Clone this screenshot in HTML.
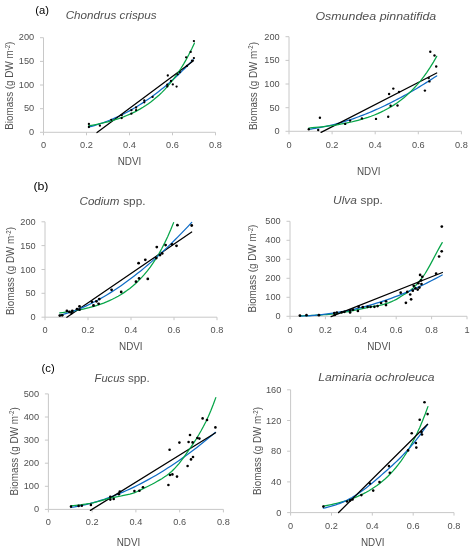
<!DOCTYPE html>
<html lang="en"><head><meta charset="utf-8"><title>Biomass vs NDVI</title>
<style>html,body{margin:0;padding:0;background:#fff}svg{display:block}text{font-family:"Liberation Sans",Arial,sans-serif}.t{fill:#505050;font-size:9.2px}.l{fill:#505050;font-size:10.4px}.h{fill:#505050;font-size:11.5px}.i{font-style:italic}.g{fill:#000;font-size:11.5px}.ax{stroke:#c8c8c8;stroke-width:1;fill:none}.k{stroke:#000;stroke-width:1.25;fill:none;stroke-linecap:round}.b{stroke:#0f6cc6;stroke-width:1.25;fill:none;stroke-linecap:round}.gr{stroke:#06a548;stroke-width:1.25;fill:none;stroke-linecap:round}.p{fill:#000}</style></head><body>
<svg width="474" height="550" viewBox="0 0 474 550">
<rect width="474" height="550" fill="#fff"/>
<g>
<path class="ax" d="M43.5,37.7V132.3H215.5M43.5,132.3v3M86.5,132.3v3M129.5,132.3v3M172.5,132.3v3M215.5,132.3v3M43.5,132.3h-3.5M43.5,108.7h-3.5M43.5,85.0h-3.5M43.5,61.4h-3.5M43.5,37.7h-3.5"/>
<text class="t" x="43.5" y="148.2" text-anchor="middle">0</text>
<text class="t" x="86.5" y="148.2" text-anchor="middle">0.2</text>
<text class="t" x="129.5" y="148.2" text-anchor="middle">0.4</text>
<text class="t" x="172.5" y="148.2" text-anchor="middle">0.6</text>
<text class="t" x="215.5" y="148.2" text-anchor="middle">0.8</text>
<text class="t" x="34.2" y="134.9" text-anchor="end">0</text>
<text class="t" x="34.2" y="111.2" text-anchor="end">50</text>
<text class="t" x="34.2" y="87.6" text-anchor="end">100</text>
<text class="t" x="34.2" y="64.0" text-anchor="end">150</text>
<text class="t" x="34.2" y="40.3" text-anchor="end">200</text>
<text class="l" x="129.5" y="165.2" text-anchor="middle" textLength="23.6" lengthAdjust="spacingAndGlyphs">NDVI</text>
<text class="l" transform="translate(12.7,129.7) rotate(-90)" textLength="88.1" lengthAdjust="spacingAndGlyphs">Biomass (g DW m<tspan font-size="6.5px" dy="-3.2">-2</tspan><tspan dy="3.2">)</tspan></text>
<text class="h i" x="65.7" y="19.4" textLength="90.9" lengthAdjust="spacingAndGlyphs">Chondrus crispus</text>
<text class="g" x="35.2" y="13.8" textLength="13.7" lengthAdjust="spacingAndGlyphs">(a)</text>
<path class="b" d="M88.90,127.02 L91.57,126.31 L94.25,125.55 L96.92,124.75 L99.60,123.89 L102.27,122.99 L104.95,122.03 L107.62,121.03 L110.29,119.97 L112.97,118.86 L115.64,117.69 L118.32,116.48 L120.99,115.21 L123.67,113.89 L126.34,112.51 L129.02,111.08 L131.69,109.60 L134.36,108.06 L137.04,106.46 L139.71,104.82 L142.39,103.11 L145.06,101.35 L147.74,99.53 L150.41,97.65 L153.08,95.72 L155.76,93.73 L158.43,91.69 L161.11,89.58 L163.78,87.42 L166.46,85.20 L169.13,82.92 L171.81,80.58 L174.48,78.19 L177.15,75.73 L179.83,73.22 L182.50,70.64 L185.18,68.00 L187.85,65.31 L190.53,62.55 L193.20,59.74"/>
<path class="k" d="M97.0,132.6L193.5,60.7"/>
<path class="gr" d="M88.90,125.73 L91.61,125.27 L94.31,124.79 L97.02,124.27 L99.72,123.71 L102.43,123.12 L105.13,122.48 L107.84,121.80 L110.54,121.08 L113.25,120.30 L115.95,119.47 L118.66,118.59 L121.36,117.64 L124.07,116.63 L126.77,115.54 L129.48,114.38 L132.18,113.14 L134.89,111.82 L137.59,110.40 L140.30,108.89 L143.00,107.27 L145.71,105.54 L148.41,103.69 L151.12,101.71 L153.82,99.60 L156.53,97.34 L159.23,94.92 L161.94,92.34 L164.64,89.57 L167.35,86.62 L170.05,83.46 L172.76,80.08 L175.46,76.47 L178.17,72.61 L180.87,68.49 L183.58,64.07 L186.28,59.36 L188.99,54.31 L191.69,48.92 L194.40,43.16"/>
<g class="p"><circle cx="88.9" cy="124.0" r="1.15"/><circle cx="88.9" cy="127.0" r="1.15"/><circle cx="99.9" cy="125.7" r="1.15"/><circle cx="111.3" cy="119.8" r="1.15"/><circle cx="121.7" cy="115.2" r="1.15"/><circle cx="121.7" cy="118.1" r="1.15"/><circle cx="131.4" cy="110.2" r="1.15"/><circle cx="131.4" cy="113.7" r="1.15"/><circle cx="136.1" cy="107.5" r="1.15"/><circle cx="136.1" cy="110.2" r="1.15"/><circle cx="144.3" cy="100.4" r="1.15"/><circle cx="144.3" cy="102.3" r="1.15"/><circle cx="193.9" cy="41.1" r="1.15"/><circle cx="193.9" cy="58.1" r="1.15"/><circle cx="192.0" cy="60.7" r="1.15"/><circle cx="190.7" cy="51.9" r="1.15"/><circle cx="186.1" cy="57.3" r="1.15"/><circle cx="187.0" cy="65.9" r="1.15"/><circle cx="179.9" cy="72.1" r="1.15"/><circle cx="177.7" cy="74.3" r="1.15"/><circle cx="167.8" cy="75.5" r="1.15"/><circle cx="171.0" cy="81.0" r="1.15"/><circle cx="172.8" cy="84.4" r="1.15"/><circle cx="176.6" cy="86.6" r="1.15"/><circle cx="167.3" cy="84.7" r="1.15"/><circle cx="167.3" cy="86.4" r="1.15"/><circle cx="152.6" cy="96.9" r="1.15"/></g>
</g>
<g>
<path class="ax" d="M289.0,36.7V131.3H461.4M289.0,131.3v3M332.1,131.3v3M375.2,131.3v3M418.3,131.3v3M461.4,131.3v3M289.0,131.3h-3.5M289.0,107.7h-3.5M289.0,84.0h-3.5M289.0,60.4h-3.5M289.0,36.7h-3.5"/>
<text class="t" x="289.0" y="148.0" text-anchor="middle">0</text>
<text class="t" x="332.1" y="148.0" text-anchor="middle">0.2</text>
<text class="t" x="375.2" y="148.0" text-anchor="middle">0.4</text>
<text class="t" x="418.3" y="148.0" text-anchor="middle">0.6</text>
<text class="t" x="461.4" y="148.0" text-anchor="middle">0.8</text>
<text class="t" x="279.7" y="134.3" text-anchor="end">0</text>
<text class="t" x="279.7" y="110.7" text-anchor="end">50</text>
<text class="t" x="279.7" y="87.0" text-anchor="end">100</text>
<text class="t" x="279.7" y="63.4" text-anchor="end">150</text>
<text class="t" x="279.7" y="39.7" text-anchor="end">200</text>
<text class="l" x="368.7" y="175.4" text-anchor="middle" textLength="23.6" lengthAdjust="spacingAndGlyphs">NDVI</text>
<text class="l" transform="translate(256.6,130.0) rotate(-90)" textLength="88.0" lengthAdjust="spacingAndGlyphs">Biomass (g DW m<tspan font-size="6.5px" dy="-3.2">-2</tspan><tspan dy="3.2">)</tspan></text>
<text class="h i" x="315.4" y="19.5" textLength="120.9" lengthAdjust="spacingAndGlyphs">Osmundea pinnatifida</text>
<path class="b" d="M308.80,129.30 L310.97,129.01 L313.14,128.69 L315.30,128.35 L317.47,127.99 L319.64,127.60 L321.81,127.19 L323.97,126.76 L326.14,126.30 L328.31,125.82 L330.48,125.31 L332.65,124.79 L334.81,124.24 L336.98,123.66 L339.15,123.07 L341.32,122.45 L343.48,121.81 L345.65,121.15 L347.82,120.47 L349.99,119.76 L352.16,119.04 L354.32,118.29 L356.49,117.52 L358.66,116.73 L360.83,115.92 L362.99,115.09 L365.16,114.24 L367.33,113.37 L369.50,112.48 L371.67,111.57 L373.83,110.64 L376.00,109.69 L378.17,108.72 L380.34,107.73 L382.51,106.73 L384.67,105.70 L386.84,104.66 L389.01,103.59 L391.18,102.51 L393.34,101.41 L395.51,100.30 L397.68,99.16 L399.85,98.01 L402.02,96.84 L404.18,95.66 L406.35,94.45 L408.52,93.23 L410.69,92.00 L412.85,90.74 L415.02,89.47 L417.19,88.19 L419.36,86.89 L421.53,85.57 L423.69,84.23 L425.86,82.89 L428.03,81.52 L430.20,80.14 L432.36,78.75 L434.53,77.34 L436.70,75.92"/>
<path class="k" d="M321.1,132.4L436.7,73.0"/>
<path class="gr" d="M308.80,128.02 L312.08,127.74 L315.36,127.45 L318.64,127.12 L321.92,126.77 L325.20,126.40 L328.48,125.99 L331.76,125.54 L335.04,125.06 L338.32,124.54 L341.59,123.98 L344.87,123.37 L348.15,122.70 L351.43,121.99 L354.71,121.21 L357.99,120.36 L361.27,119.45 L364.55,118.46 L367.83,117.39 L371.11,116.23 L374.39,114.97 L377.67,113.60 L380.95,112.13 L384.23,110.52 L387.51,108.79 L390.79,106.91 L394.07,104.87 L397.35,102.66 L400.63,100.27 L403.91,97.68 L407.18,94.87 L410.46,91.83 L413.74,88.53 L417.02,84.96 L420.30,81.09 L423.58,76.90 L426.86,72.35 L430.14,67.43 L433.42,62.10 L436.70,56.32"/>
<g class="p"><circle cx="319.9" cy="117.7" r="1.2"/><circle cx="318.2" cy="130.0" r="1.2"/><circle cx="308.8" cy="129.3" r="1.2"/><circle cx="345.2" cy="123.9" r="1.2"/><circle cx="350.1" cy="120.6" r="1.2"/><circle cx="361.9" cy="118.4" r="1.2"/><circle cx="376.0" cy="118.9" r="1.2"/><circle cx="430.3" cy="51.8" r="1.2"/><circle cx="434.5" cy="55.5" r="1.2"/><circle cx="436.2" cy="66.5" r="1.2"/><circle cx="428.7" cy="78.0" r="1.2"/><circle cx="429.4" cy="81.4" r="1.2"/><circle cx="424.9" cy="90.6" r="1.2"/><circle cx="393.3" cy="88.6" r="1.2"/><circle cx="389.1" cy="94.0" r="1.2"/><circle cx="399.0" cy="92.0" r="1.2"/><circle cx="390.6" cy="105.8" r="1.2"/><circle cx="397.5" cy="105.5" r="1.2"/><circle cx="388.2" cy="116.8" r="1.2"/></g>
</g>
<g>
<path class="ax" d="M45.0,221.8V317.2H217.0M45.0,317.2v3M88.0,317.2v3M131.0,317.2v3M174.0,317.2v3M217.0,317.2v3M45.0,317.2h-3.5M45.0,293.3h-3.5M45.0,269.5h-3.5M45.0,245.6h-3.5M45.0,221.8h-3.5"/>
<text class="t" x="45.0" y="333.3" text-anchor="middle">0</text>
<text class="t" x="88.0" y="333.3" text-anchor="middle">0.2</text>
<text class="t" x="131.0" y="333.3" text-anchor="middle">0.4</text>
<text class="t" x="174.0" y="333.3" text-anchor="middle">0.6</text>
<text class="t" x="217.0" y="333.3" text-anchor="middle">0.8</text>
<text class="t" x="35.7" y="320.2" text-anchor="end">0</text>
<text class="t" x="35.7" y="296.3" text-anchor="end">50</text>
<text class="t" x="35.7" y="272.5" text-anchor="end">100</text>
<text class="t" x="35.7" y="248.6" text-anchor="end">150</text>
<text class="t" x="35.7" y="224.8" text-anchor="end">200</text>
<text class="l" x="130.8" y="350.2" text-anchor="middle" textLength="23.6" lengthAdjust="spacingAndGlyphs">NDVI</text>
<text class="l" transform="translate(14.3,315.0) rotate(-90)" textLength="88.0" lengthAdjust="spacingAndGlyphs">Biomass (g DW m<tspan font-size="6.5px" dy="-3.2">-2</tspan><tspan dy="3.2">)</tspan></text>
<text class="h i" x="79.5" y="204.5" textLength="40.0" lengthAdjust="spacingAndGlyphs">Codium</text>
<text class="h" x="123.2" y="204.5" textLength="22.3" lengthAdjust="spacingAndGlyphs">spp.</text>
<text class="g" x="33.4" y="190.4" textLength="15.1" lengthAdjust="spacingAndGlyphs">(b)</text>
<path class="k" d="M66.9,317.3L191.7,232.0"/>
<path class="gr" d="M59.80,312.90 L62.72,312.54 L65.64,312.16 L68.55,311.74 L71.47,311.29 L74.39,310.81 L77.31,310.28 L80.23,309.71 L83.14,309.09 L86.06,308.42 L88.98,307.70 L91.90,306.91 L94.82,306.07 L97.73,305.15 L100.65,304.15 L103.57,303.08 L106.49,301.91 L109.41,300.65 L112.32,299.29 L115.24,297.81 L118.16,296.21 L121.08,294.48 L123.99,292.61 L126.91,290.58 L129.83,288.39 L132.75,286.01 L135.67,283.44 L138.58,280.66 L141.50,277.64 L144.42,274.38 L147.34,270.85 L150.26,267.03 L153.17,262.89 L156.09,258.42 L159.01,253.57 L161.93,248.32 L164.85,242.64 L167.76,236.50 L170.68,229.84 L173.60,222.64"/>
<path class="b" d="M59.80,315.17 L63.18,314.33 L66.56,313.38 L69.95,312.33 L73.33,311.17 L76.71,309.91 L80.09,308.57 L83.47,307.13 L86.86,305.60 L90.24,303.99 L93.62,302.29 L97.00,300.52 L100.38,298.66 L103.77,296.73 L107.15,294.71 L110.53,292.63 L113.91,290.47 L117.29,288.23 L120.68,285.93 L124.06,283.55 L127.44,281.11 L130.82,278.59 L134.21,276.01 L137.59,273.36 L140.97,270.65 L144.35,267.86 L147.73,265.02 L151.12,262.11 L154.50,259.14 L157.88,256.10 L161.26,253.01 L164.64,249.85 L168.03,246.63 L171.41,243.35 L174.79,240.01 L178.17,236.61 L181.55,233.16 L184.94,229.64 L188.32,226.07 L191.70,222.44"/>
<g class="p"><circle cx="59.8" cy="315.6" r="1.4"/><circle cx="62.2" cy="315.3" r="1.4"/><circle cx="66.9" cy="310.9" r="1.4"/><circle cx="69.4" cy="311.9" r="1.4"/><circle cx="72.3" cy="310.9" r="1.4"/><circle cx="71.6" cy="313.1" r="1.4"/><circle cx="77.0" cy="309.2" r="1.4"/><circle cx="79.5" cy="306.4" r="1.4"/><circle cx="79.5" cy="309.7" r="1.4"/><circle cx="91.9" cy="301.8" r="1.4"/><circle cx="93.5" cy="305.5" r="1.4"/><circle cx="96.4" cy="301.3" r="1.4"/><circle cx="99.3" cy="299.1" r="1.4"/><circle cx="98.6" cy="303.8" r="1.4"/><circle cx="111.6" cy="289.8" r="1.4"/><circle cx="121.2" cy="292.0" r="1.4"/><circle cx="177.4" cy="225.2" r="1.4"/><circle cx="191.7" cy="225.5" r="1.4"/><circle cx="156.8" cy="247.1" r="1.4"/><circle cx="165.6" cy="245.1" r="1.4"/><circle cx="172.0" cy="244.3" r="1.4"/><circle cx="176.5" cy="245.8" r="1.4"/><circle cx="162.2" cy="253.4" r="1.4"/><circle cx="160.0" cy="255.1" r="1.4"/><circle cx="156.3" cy="258.1" r="1.4"/><circle cx="145.3" cy="259.8" r="1.4"/><circle cx="138.6" cy="263.2" r="1.4"/><circle cx="139.1" cy="278.4" r="1.4"/><circle cx="136.0" cy="281.7" r="1.4"/><circle cx="147.8" cy="278.9" r="1.4"/></g>
</g>
<g>
<path class="ax" d="M290.0,221.3V316.3H467.0M290.0,316.3v3M325.4,316.3v3M360.8,316.3v3M396.2,316.3v3M431.6,316.3v3M467.0,316.3v3M290.0,316.3h-3.5M290.0,297.3h-3.5M290.0,278.3h-3.5M290.0,259.3h-3.5M290.0,240.3h-3.5M290.0,221.3h-3.5"/>
<text class="t" x="290.0" y="333.0" text-anchor="middle">0</text>
<text class="t" x="325.4" y="333.0" text-anchor="middle">0.2</text>
<text class="t" x="360.8" y="333.0" text-anchor="middle">0.4</text>
<text class="t" x="396.2" y="333.0" text-anchor="middle">0.6</text>
<text class="t" x="431.6" y="333.0" text-anchor="middle">0.8</text>
<text class="t" x="467.0" y="333.0" text-anchor="middle">1</text>
<text class="t" x="280.7" y="319.3" text-anchor="end">0</text>
<text class="t" x="280.7" y="300.3" text-anchor="end">100</text>
<text class="t" x="280.7" y="281.3" text-anchor="end">200</text>
<text class="t" x="280.7" y="262.3" text-anchor="end">300</text>
<text class="t" x="280.7" y="243.3" text-anchor="end">400</text>
<text class="t" x="280.7" y="224.3" text-anchor="end">500</text>
<text class="l" x="379.0" y="349.6" text-anchor="middle" textLength="23.6" lengthAdjust="spacingAndGlyphs">NDVI</text>
<text class="l" transform="translate(256.0,312.6) rotate(-90)" textLength="88.0" lengthAdjust="spacingAndGlyphs">Biomass (g DW m<tspan font-size="6.5px" dy="-3.2">-2</tspan><tspan dy="3.2">)</tspan></text>
<text class="h i" x="333.1" y="204.3" textLength="23.8" lengthAdjust="spacingAndGlyphs">Ulva</text>
<text class="h" x="360.5" y="204.3" textLength="22.3" lengthAdjust="spacingAndGlyphs">spp.</text>
<path class="gr" d="M299.90,315.80 L302.31,315.76 L304.72,315.69 L307.14,315.61 L309.55,315.52 L311.96,315.41 L314.37,315.30 L316.78,315.17 L319.19,315.04 L321.61,314.91 L324.02,314.75 L326.43,314.57 L328.84,314.36 L331.25,314.13 L333.67,313.87 L336.08,313.56 L338.49,313.16 L340.90,312.75 L343.31,312.36 L345.73,311.95 L348.14,311.53 L350.55,311.09 L352.96,310.62 L355.37,310.11 L357.78,309.60 L360.20,309.09 L362.61,308.59 L365.02,308.11 L367.43,307.63 L369.84,307.15 L372.26,306.67 L374.67,306.22 L377.08,305.77 L379.49,305.30 L381.90,304.77 L384.32,304.14 L386.73,303.39 L389.14,302.55 L391.55,301.60 L393.96,300.54 L396.37,299.33 L398.79,297.89 L401.20,296.34 L403.61,294.81 L406.02,293.35 L408.43,291.83 L410.85,290.03 L413.26,287.90 L415.67,285.50 L418.08,282.77 L420.49,279.84 L422.91,276.74 L425.32,273.26 L427.73,269.15 L430.14,264.83 L432.55,260.37 L434.96,255.82 L437.38,251.23 L439.79,246.84 L442.20,242.60"/>
<path class="b" d="M299.90,316.14 L303.55,316.00 L307.20,315.81 L310.85,315.57 L314.49,315.29 L318.14,314.96 L321.79,314.58 L325.44,314.16 L329.09,313.68 L332.74,313.17 L336.39,312.60 L340.04,311.98 L343.68,311.32 L347.33,310.61 L350.98,309.85 L354.63,309.04 L358.28,308.19 L361.93,307.28 L365.58,306.33 L369.23,305.33 L372.87,304.28 L376.52,303.18 L380.17,302.03 L383.82,300.83 L387.47,299.59 L391.12,298.30 L394.77,296.95 L398.42,295.56 L402.06,294.12 L405.71,292.63 L409.36,291.09 L413.01,289.50 L416.66,287.86 L420.31,286.17 L423.96,284.44 L427.61,282.65 L431.25,280.81 L434.90,278.93 L438.55,276.99 L442.20,275.01"/>
<path class="k" d="M331.1,316.7L442.4,272.5"/>
<g class="p"><circle cx="299.9" cy="315.6" r="1.35"/><circle cx="306.5" cy="315.2" r="1.35"/><circle cx="318.9" cy="315.2" r="1.35"/><circle cx="334.3" cy="313.1" r="1.35"/><circle cx="336.8" cy="312.5" r="1.35"/><circle cx="334.7" cy="315.0" r="1.35"/><circle cx="341.7" cy="312.3" r="1.35"/><circle cx="344.4" cy="311.8" r="1.35"/><circle cx="350.1" cy="310.4" r="1.35"/><circle cx="352.9" cy="309.7" r="1.35"/><circle cx="350.1" cy="312.5" r="1.35"/><circle cx="357.9" cy="311.0" r="1.35"/><circle cx="358.6" cy="306.8" r="1.35"/><circle cx="362.8" cy="307.2" r="1.35"/><circle cx="367.6" cy="306.8" r="1.35"/><circle cx="370.6" cy="306.8" r="1.35"/><circle cx="374.4" cy="306.8" r="1.35"/><circle cx="377.6" cy="306.1" r="1.35"/><circle cx="381.1" cy="303.0" r="1.35"/><circle cx="386.0" cy="301.3" r="1.35"/><circle cx="386.0" cy="305.1" r="1.35"/><circle cx="441.8" cy="226.6" r="1.35"/><circle cx="441.7" cy="251.3" r="1.35"/><circle cx="439.1" cy="256.5" r="1.35"/><circle cx="436.1" cy="273.7" r="1.35"/><circle cx="420.1" cy="274.9" r="1.35"/><circle cx="422.3" cy="276.8" r="1.35"/><circle cx="421.1" cy="280.3" r="1.35"/><circle cx="421.5" cy="284.1" r="1.35"/><circle cx="418.3" cy="283.2" r="1.35"/><circle cx="413.7" cy="285.8" r="1.35"/><circle cx="419.4" cy="287.6" r="1.35"/><circle cx="417.7" cy="289.6" r="1.35"/><circle cx="415.4" cy="288.4" r="1.35"/><circle cx="412.8" cy="290.7" r="1.35"/><circle cx="407.3" cy="291.9" r="1.35"/><circle cx="400.7" cy="292.7" r="1.35"/><circle cx="410.2" cy="294.5" r="1.35"/><circle cx="411.1" cy="299.3" r="1.35"/><circle cx="405.9" cy="302.8" r="1.35"/></g>
</g>
<g>
<path class="ax" d="M48.4,393.9V509.4H223.4M48.4,509.4v3M92.2,509.4v3M135.9,509.4v3M179.7,509.4v3M223.4,509.4v3M48.4,509.4h-3.5M48.4,486.3h-3.5M48.4,463.2h-3.5M48.4,440.1h-3.5M48.4,417.0h-3.5M48.4,393.9h-3.5"/>
<text class="t" x="48.4" y="525.0" text-anchor="middle">0</text>
<text class="t" x="92.2" y="525.0" text-anchor="middle">0.2</text>
<text class="t" x="135.9" y="525.0" text-anchor="middle">0.4</text>
<text class="t" x="179.7" y="525.0" text-anchor="middle">0.6</text>
<text class="t" x="223.4" y="525.0" text-anchor="middle">0.8</text>
<text class="t" x="39.1" y="512.4" text-anchor="end">0</text>
<text class="t" x="39.1" y="489.3" text-anchor="end">100</text>
<text class="t" x="39.1" y="466.2" text-anchor="end">200</text>
<text class="t" x="39.1" y="443.1" text-anchor="end">300</text>
<text class="t" x="39.1" y="420.0" text-anchor="end">400</text>
<text class="t" x="39.1" y="396.9" text-anchor="end">500</text>
<text class="l" x="128.5" y="545.6" text-anchor="middle" textLength="23.6" lengthAdjust="spacingAndGlyphs">NDVI</text>
<text class="l" transform="translate(17.5,495.6) rotate(-90)" textLength="88.4" lengthAdjust="spacingAndGlyphs">Biomass (g DW m<tspan font-size="6.5px" dy="-3.2">-2</tspan><tspan dy="3.2">)</tspan></text>
<text class="h i" x="94.6" y="381.8" textLength="30.3" lengthAdjust="spacingAndGlyphs">Fucus</text>
<text class="h" x="127.9" y="381.8" textLength="21.9" lengthAdjust="spacingAndGlyphs">spp.</text>
<text class="g" x="41.5" y="372.2" textLength="13.2" lengthAdjust="spacingAndGlyphs">(c)</text>
<path class="b" d="M71.00,507.50 L74.70,506.89 L78.41,506.19 L82.11,505.42 L85.81,504.58 L89.51,503.65 L93.22,502.66 L96.92,501.59 L100.62,500.45 L104.32,499.24 L108.03,497.96 L111.73,496.61 L115.43,495.19 L119.13,493.70 L122.84,492.15 L126.54,490.52 L130.24,488.83 L133.94,487.08 L137.65,485.26 L141.35,483.37 L145.05,481.41 L148.75,479.40 L152.46,477.31 L156.16,475.17 L159.86,472.96 L163.56,470.68 L167.27,468.34 L170.97,465.94 L174.67,463.48 L178.37,460.96 L182.08,458.37 L185.78,455.72 L189.48,453.01 L193.18,450.24 L196.89,447.40 L200.59,444.51 L204.29,441.55 L207.99,438.54 L211.70,435.46 L215.40,432.33"/>
<path class="k" d="M90.4,510.4L215.6,432.8"/>
<path class="gr" d="M71.00,505.70 L73.45,505.54 L75.91,505.32 L78.36,505.06 L80.82,504.75 L83.27,504.42 L85.73,504.05 L88.18,503.66 L90.63,503.25 L93.09,502.77 L95.54,502.18 L98.00,501.50 L100.45,500.78 L102.91,500.03 L105.36,499.31 L107.81,498.64 L110.27,498.05 L112.72,497.57 L115.18,497.14 L117.63,496.72 L120.08,496.24 L122.54,495.73 L124.99,495.21 L127.45,494.65 L129.90,494.04 L132.36,493.35 L134.81,492.55 L137.26,491.52 L139.72,490.33 L142.17,489.10 L144.63,487.92 L147.08,486.74 L149.54,485.53 L151.99,484.28 L154.44,482.96 L156.90,481.57 L159.35,480.15 L161.81,478.66 L164.26,477.09 L166.72,475.39 L169.17,473.54 L171.62,471.46 L174.08,469.07 L176.53,466.45 L178.99,463.63 L181.44,460.46 L183.89,457.09 L186.35,453.69 L188.80,450.16 L191.26,446.55 L193.71,442.86 L196.17,439.05 L198.62,435.04 L201.07,430.79 L203.53,426.28 L205.98,421.49 L208.44,416.22 L210.89,410.49 L213.35,404.30 L215.80,397.60"/>
<g class="p"><circle cx="71.0" cy="506.6" r="1.3"/><circle cx="78.6" cy="505.9" r="1.3"/><circle cx="81.8" cy="505.7" r="1.3"/><circle cx="90.9" cy="504.9" r="1.3"/><circle cx="110.3" cy="496.8" r="1.3"/><circle cx="110.3" cy="499.6" r="1.3"/><circle cx="113.7" cy="499.0" r="1.3"/><circle cx="118.9" cy="494.3" r="1.3"/><circle cx="119.8" cy="491.5" r="1.3"/><circle cx="134.4" cy="491.1" r="1.3"/><circle cx="139.4" cy="490.7" r="1.3"/><circle cx="143.0" cy="487.3" r="1.3"/><circle cx="202.6" cy="418.4" r="1.3"/><circle cx="207.0" cy="420.0" r="1.3"/><circle cx="215.4" cy="427.4" r="1.3"/><circle cx="190.0" cy="435.0" r="1.3"/><circle cx="197.4" cy="438.0" r="1.3"/><circle cx="199.4" cy="438.6" r="1.3"/><circle cx="179.4" cy="442.6" r="1.3"/><circle cx="188.6" cy="442.0" r="1.3"/><circle cx="192.6" cy="442.4" r="1.3"/><circle cx="169.6" cy="449.8" r="1.3"/><circle cx="193.0" cy="457.0" r="1.3"/><circle cx="191.0" cy="459.4" r="1.3"/><circle cx="187.6" cy="466.0" r="1.3"/><circle cx="170.0" cy="475.0" r="1.3"/><circle cx="172.4" cy="474.4" r="1.3"/><circle cx="177.0" cy="476.6" r="1.3"/><circle cx="168.4" cy="485.0" r="1.3"/></g>
</g>
<g>
<path class="ax" d="M290.6,389.8V512.6H454.0M290.6,512.6v3M331.5,512.6v3M372.3,512.6v3M413.2,512.6v3M454.0,512.6v3M290.6,512.6h-3.5M290.6,481.9h-3.5M290.6,451.2h-3.5M290.6,420.5h-3.5M290.6,389.8h-3.5"/>
<text class="t" x="290.6" y="529.0" text-anchor="middle">0</text>
<text class="t" x="331.5" y="529.0" text-anchor="middle">0.2</text>
<text class="t" x="372.3" y="529.0" text-anchor="middle">0.4</text>
<text class="t" x="413.2" y="529.0" text-anchor="middle">0.6</text>
<text class="t" x="454.0" y="529.0" text-anchor="middle">0.8</text>
<text class="t" x="281.3" y="515.6" text-anchor="end">0</text>
<text class="t" x="281.3" y="484.9" text-anchor="end">40</text>
<text class="t" x="281.3" y="454.2" text-anchor="end">80</text>
<text class="t" x="281.3" y="423.5" text-anchor="end">120</text>
<text class="t" x="281.3" y="392.8" text-anchor="end">160</text>
<text class="l" x="372.7" y="545.6" text-anchor="middle" textLength="23.6" lengthAdjust="spacingAndGlyphs">NDVI</text>
<text class="l" transform="translate(261.3,495.0) rotate(-90)" textLength="88.0" lengthAdjust="spacingAndGlyphs">Biomass (g DW m<tspan font-size="6.5px" dy="-3.2">-2</tspan><tspan dy="3.2">)</tspan></text>
<text class="h i" x="318.3" y="381.3" textLength="116.3" lengthAdjust="spacingAndGlyphs">Laminaria ochroleuca</text>
<path class="gr" d="M323.40,506.12 L326.08,505.64 L328.76,505.13 L331.44,504.57 L334.12,503.98 L336.80,503.33 L339.48,502.65 L342.16,501.91 L344.84,501.11 L347.52,500.26 L350.19,499.34 L352.87,498.36 L355.55,497.30 L358.23,496.16 L360.91,494.94 L363.59,493.63 L366.27,492.22 L368.95,490.70 L371.63,489.08 L374.31,487.33 L376.99,485.45 L379.67,483.43 L382.35,481.27 L385.03,478.94 L387.71,476.44 L390.39,473.75 L393.07,470.86 L395.75,467.76 L398.43,464.43 L401.11,460.85 L403.78,457.01 L406.46,452.88 L409.14,448.44 L411.82,443.67 L414.50,438.55 L417.18,433.05 L419.86,427.14 L422.54,420.79 L425.22,413.97 L427.90,406.64"/>
<path class="b" d="M323.40,508.17 L325.17,507.80 L326.93,507.39 L328.70,506.95 L330.46,506.48 L332.23,505.97 L334.00,505.42 L335.76,504.84 L337.53,504.21 L339.29,503.55 L341.06,502.85 L342.83,502.10 L344.59,501.31 L346.36,500.47 L348.13,499.59 L349.89,498.67 L351.66,497.69 L353.42,496.66 L355.19,495.59 L356.96,494.46 L358.72,493.28 L360.49,492.06 L362.25,490.79 L364.02,489.48 L365.79,488.14 L367.55,486.76 L369.32,485.35 L371.08,483.91 L372.85,482.45 L374.62,480.97 L376.38,479.46 L378.15,477.94 L379.92,476.41 L381.68,474.87 L383.45,473.33 L385.21,471.77 L386.98,470.21 L388.75,468.63 L390.51,467.04 L392.28,465.42 L394.04,463.78 L395.81,462.12 L397.58,460.43 L399.34,458.70 L401.11,456.94 L402.87,455.14 L404.64,453.30 L406.41,451.41 L408.17,449.47 L409.94,447.47 L411.71,445.43 L413.47,443.33 L415.24,441.17 L417.00,438.95 L418.77,436.68 L420.54,434.34 L422.30,431.94 L424.07,429.48 L425.83,426.95 L427.60,424.35"/>
<path class="k" d="M338.6,512.5L427.6,424.3"/>
<g class="p"><circle cx="323.4" cy="506.6" r="1.3"/><circle cx="347.1" cy="501.5" r="1.3"/><circle cx="350.1" cy="500.4" r="1.3"/><circle cx="352.5" cy="499.5" r="1.3"/><circle cx="361.4" cy="495.1" r="1.3"/><circle cx="373.2" cy="490.6" r="1.3"/><circle cx="369.9" cy="483.5" r="1.3"/><circle cx="379.5" cy="482.1" r="1.3"/><circle cx="388.9" cy="466.1" r="1.3"/><circle cx="389.8" cy="472.8" r="1.3"/><circle cx="424.5" cy="402.3" r="1.3"/><circle cx="427.6" cy="414.1" r="1.3"/><circle cx="419.7" cy="419.8" r="1.3"/><circle cx="411.7" cy="433.2" r="1.3"/><circle cx="421.4" cy="432.1" r="1.3"/><circle cx="422.0" cy="434.5" r="1.3"/><circle cx="415.9" cy="443.0" r="1.3"/><circle cx="416.3" cy="447.6" r="1.3"/><circle cx="408.1" cy="450.4" r="1.3"/></g>
</g>
</svg></body></html>
